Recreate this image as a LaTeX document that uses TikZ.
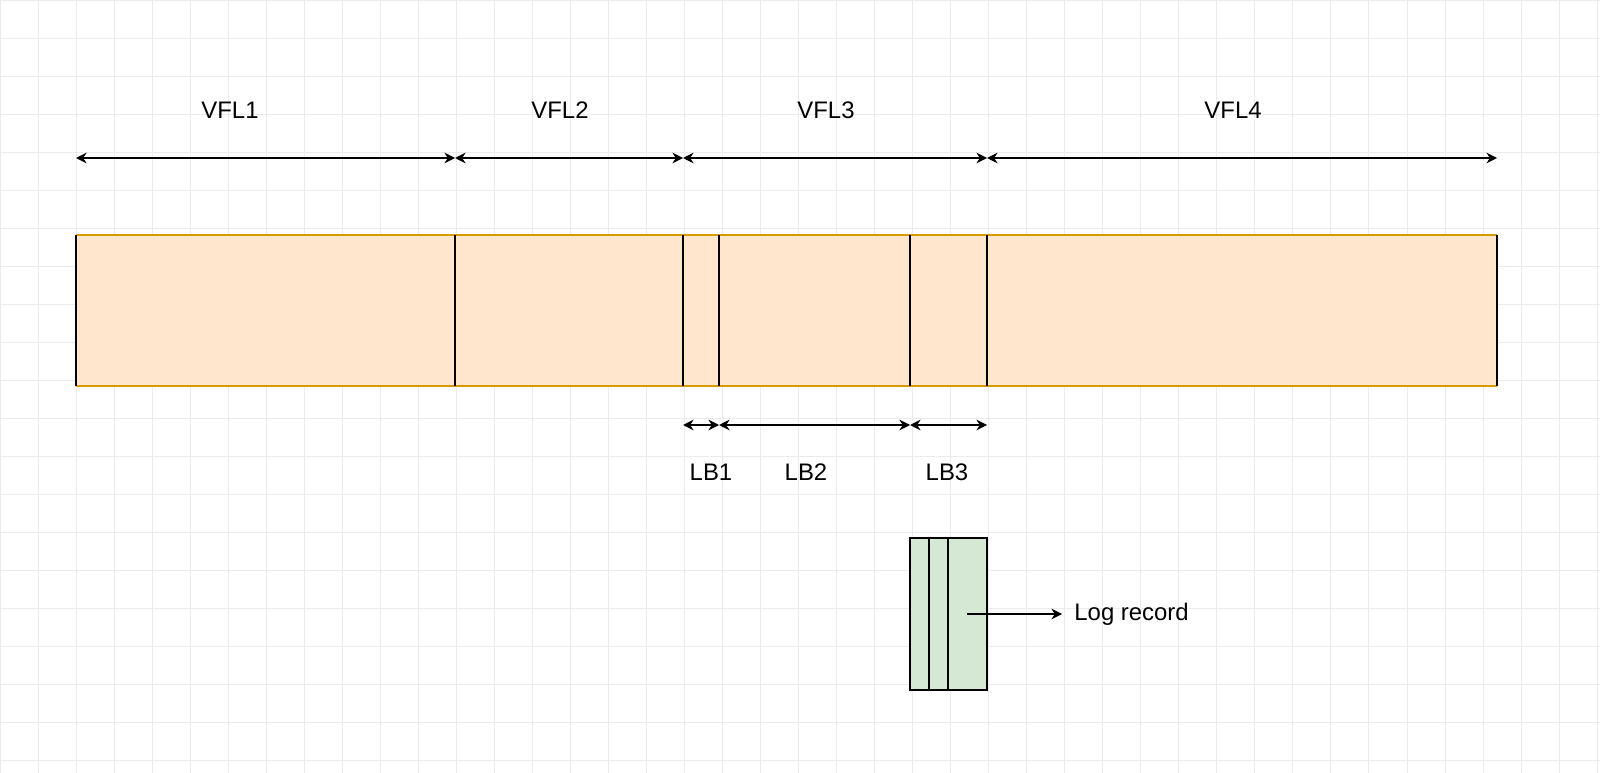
\documentclass[tikz,border=0pt]{standalone}
\usepackage{fontspec}
\setmainfont{Liberation Sans}
\usetikzlibrary{arrows.meta}
\definecolor{barfill}{HTML}{FFE6CC}
\definecolor{barline}{HTML}{D79B00}
\definecolor{recfill}{HTML}{D5E8D4}

\begin{document}
\begin{tikzpicture}[x=0.01cm,y=-0.01cm,
    dim/.style={{Stealth[length=3pt,width=3pt]}-{Stealth[length=3pt,width=3pt]}, line width=0.45pt},
    lbl/.style={font=\fontsize{6.8}{8}\selectfont},
    divider/.style={line width=0.3pt}]
    \useasboundingbox (0,0) rectangle (1600,773);
    \draw[black!8, line width=0.2pt, step=0.38cm] (0,0) grid (1600,773);

    % log file
    \coordinate (B0) at (76, 235);
    \coordinate (B1) at (1497, 386);
    \fill[barfill] (B0) rectangle (B1);
    \draw[barline, line width=0.4pt] (76,235) -- (1497,235) (76,386) -- (1497,386);
    \foreach \x in {76, 455, 683, 719, 910, 987, 1497}
        \draw[divider] (\x,235) -- (\x,386);

    % VFL segments
    \coordinate (V0) at (76, 158);
    \coordinate (V1) at (455, 158);
    \coordinate (V2) at (683, 158);
    \coordinate (V3) at (987, 158);
    \coordinate (V4) at (1497, 158);
    \draw[dim] (V0) -- (V1);
    \draw[dim] (V1) -- (V2);
    \draw[dim] (V2) -- (V3);
    \draw[dim] (V3) -- (V4);
    \node[lbl] (vfl1) at (230, 110) {VFL1};
    \node[lbl] (vfl2) at (560, 110) {VFL2};
    \node[lbl] (vfl3) at (826, 110) {VFL3};
    \node[lbl] (vfl4) at (1233, 110) {VFL4};

    % log blocks
    \coordinate (L0) at (683, 425);
    \coordinate (L1) at (719, 425);
    \coordinate (L2) at (910, 425);
    \coordinate (L3) at (987, 425);
    \draw[dim] (L0) -- (L1);
    \draw[dim] (L1) -- (L2);
    \draw[dim] (L2) -- (L3);
    \node[lbl] (lb1) at (711, 472) {LB1};
    \node[lbl] (lb2) at (806, 472) {LB2};
    \node[lbl] (lb3) at (947, 472) {LB3};

    % log records
    \draw[fill=recfill, line width=0.35pt] (910,538) rectangle (987,690);
    \foreach \x in {929, 948}
        \draw[line width=0.35pt] (\x,538) -- (\x,690);
    \coordinate (R0) at (967, 614);
    \node[lbl, anchor=west] (rec) at (1062, 614) {Log record};
    \draw[-{Stealth[length=3pt,width=3pt]}, line width=0.45pt] (R0) -- (rec.west);
\end{tikzpicture}
\end{document}
